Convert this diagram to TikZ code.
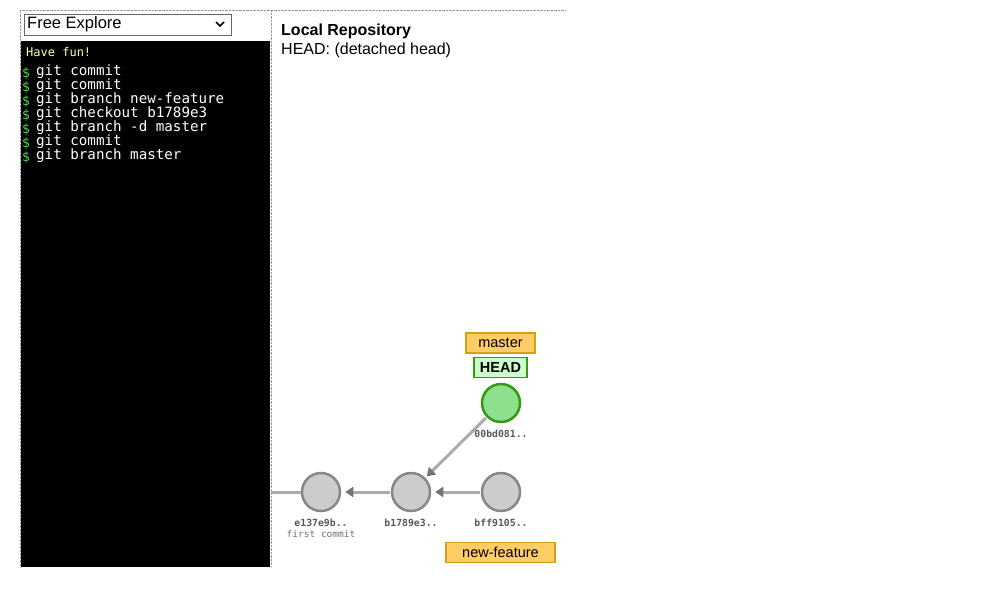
\documentclass[tikz,border=0pt]{standalone}
\usepackage{fontspec}
\setmainfont{Liberation Sans}
\setmonofont{DejaVu Sans Mono}
\usetikzlibrary{arrows.meta}
\begin{document}
\begin{tikzpicture}[x=1pt,y=-1pt,
  commit/.style={circle,minimum size=38pt,inner sep=0pt,fill=black!20,draw=black!47,line width=2.5pt},
  headc/.style={commit,fill={rgb,255:red,142;green,224;blue,142},draw={rgb,255:red,51;green,154;blue,17}},
  hash/.style={font=\ttfamily\bfseries\fontsize{9.8}{10}\selectfont,text=black!65},
  branchbox/.style={draw={rgb,255:red,212;green,160;blue,23},fill={rgb,255:red,255;green,204;blue,102},line width=1.5pt,inner sep=0pt,font=\fontsize{14.5}{16}\selectfont},
  headbox/.style={draw={rgb,255:red,51;green,154;blue,17},fill={rgb,255:red,204;green,255;blue,204},line width=1.5pt,inner sep=0pt,font=\bfseries\fontsize{14.5}{16}\selectfont},
  edge/.style={draw=black!33,line width=3pt},
  arr/.style={edge,-{Triangle[length=8pt,width=10pt,fill=black!55,color=black!55]}},
  term/.style={font=\ttfamily\fontsize{14.2}{14}\selectfont,text=white,anchor=west,inner sep=0pt},
  dol/.style={font=\ttfamily\fontsize{13}{14}\selectfont,text={rgb,255:red,80;green,220;blue,80},anchor=west,inner sep=0pt}]
\useasboundingbox (0,0) rectangle (1000,600);
\fill[white] (0,0) rectangle (1000,600);
\draw[densely dotted,black!40] (20,567) -- (20,10) -- (566,10);
\draw[densely dotted,black!40] (271,10) -- (271,567);
\fill[black] (21,41) rectangle (270,567);
\node[draw=black!60,fill=white,minimum width=207pt,minimum height=21pt,inner sep=0pt] (sel) at (127.5,24.5) {};
\node[anchor=west,inner sep=0pt,font=\fontsize{16.5}{18}\selectfont] (selt) at (27,24.5) {Free Explore};
\draw[line width=1.5pt] (216,22) -- (220,26) -- (224,22);
\node[term,text={rgb,255:red,255;green,255;blue,170},font=\ttfamily\fontsize{12}{12}\selectfont] (fun) at (26,52) {Have fun!};
\foreach \t [count=\i] in {git commit,git commit,git branch new-feature,git checkout b1789e3,git branch -d master,git commit,git branch master}{
  \node[dol] (d\i) at (22,60+14*\i) {\$};
  \node[term] (c\i) at (36,58+14*\i) {\t};
}
\node[anchor=west,inner sep=0pt,font=\bfseries\fontsize{16}{18}\selectfont] (title) at (281,31) {Local Repository};
\node[anchor=west,inner sep=0pt,font=\fontsize{16}{18}\selectfont] (headt) at (281,50) {HEAD: (detached head)};
\node[commit] (e1) at (321,492) {};
\node[commit] (b1) at (411,492) {};
\node[commit] (bf) at (501,492) {};
\node[headc] (h0) at (501,403) {};
\coordinate (left) at (271,492);
\draw[edge] (left) -- (e1);
\draw[arr,shorten <=1pt,shorten >=4pt] (b1) -- (e1);
\draw[arr,shorten <=1pt,shorten >=4pt] (bf) -- (b1);
\draw[arr,shorten <=1pt,shorten >=2pt] (h0) -- (b1);
\node[hash] (le1) at (321,523) {e137e9b..};
\node[font=\ttfamily\fontsize{9.5}{10}\selectfont,text=black!55] (fc) at (321,534) {first commit};
\node[hash] (lb1) at (411,523) {b1789e3..};
\node[hash] (lbf) at (501,523) {bff9105..};
\node[hash] (lh0) at (501,434) {00bd081..};
\node[branchbox,minimum width=69pt,minimum height=20pt] (master) at (500.5,343) {master};
\node[headbox,minimum width=53pt,minimum height=20pt] (head) at (500.5,367.5) {HEAD};
\node[branchbox,minimum width=109pt,minimum height=20pt] (nf) at (500.5,552.5) {new-feature};
\end{tikzpicture}
\end{document}
